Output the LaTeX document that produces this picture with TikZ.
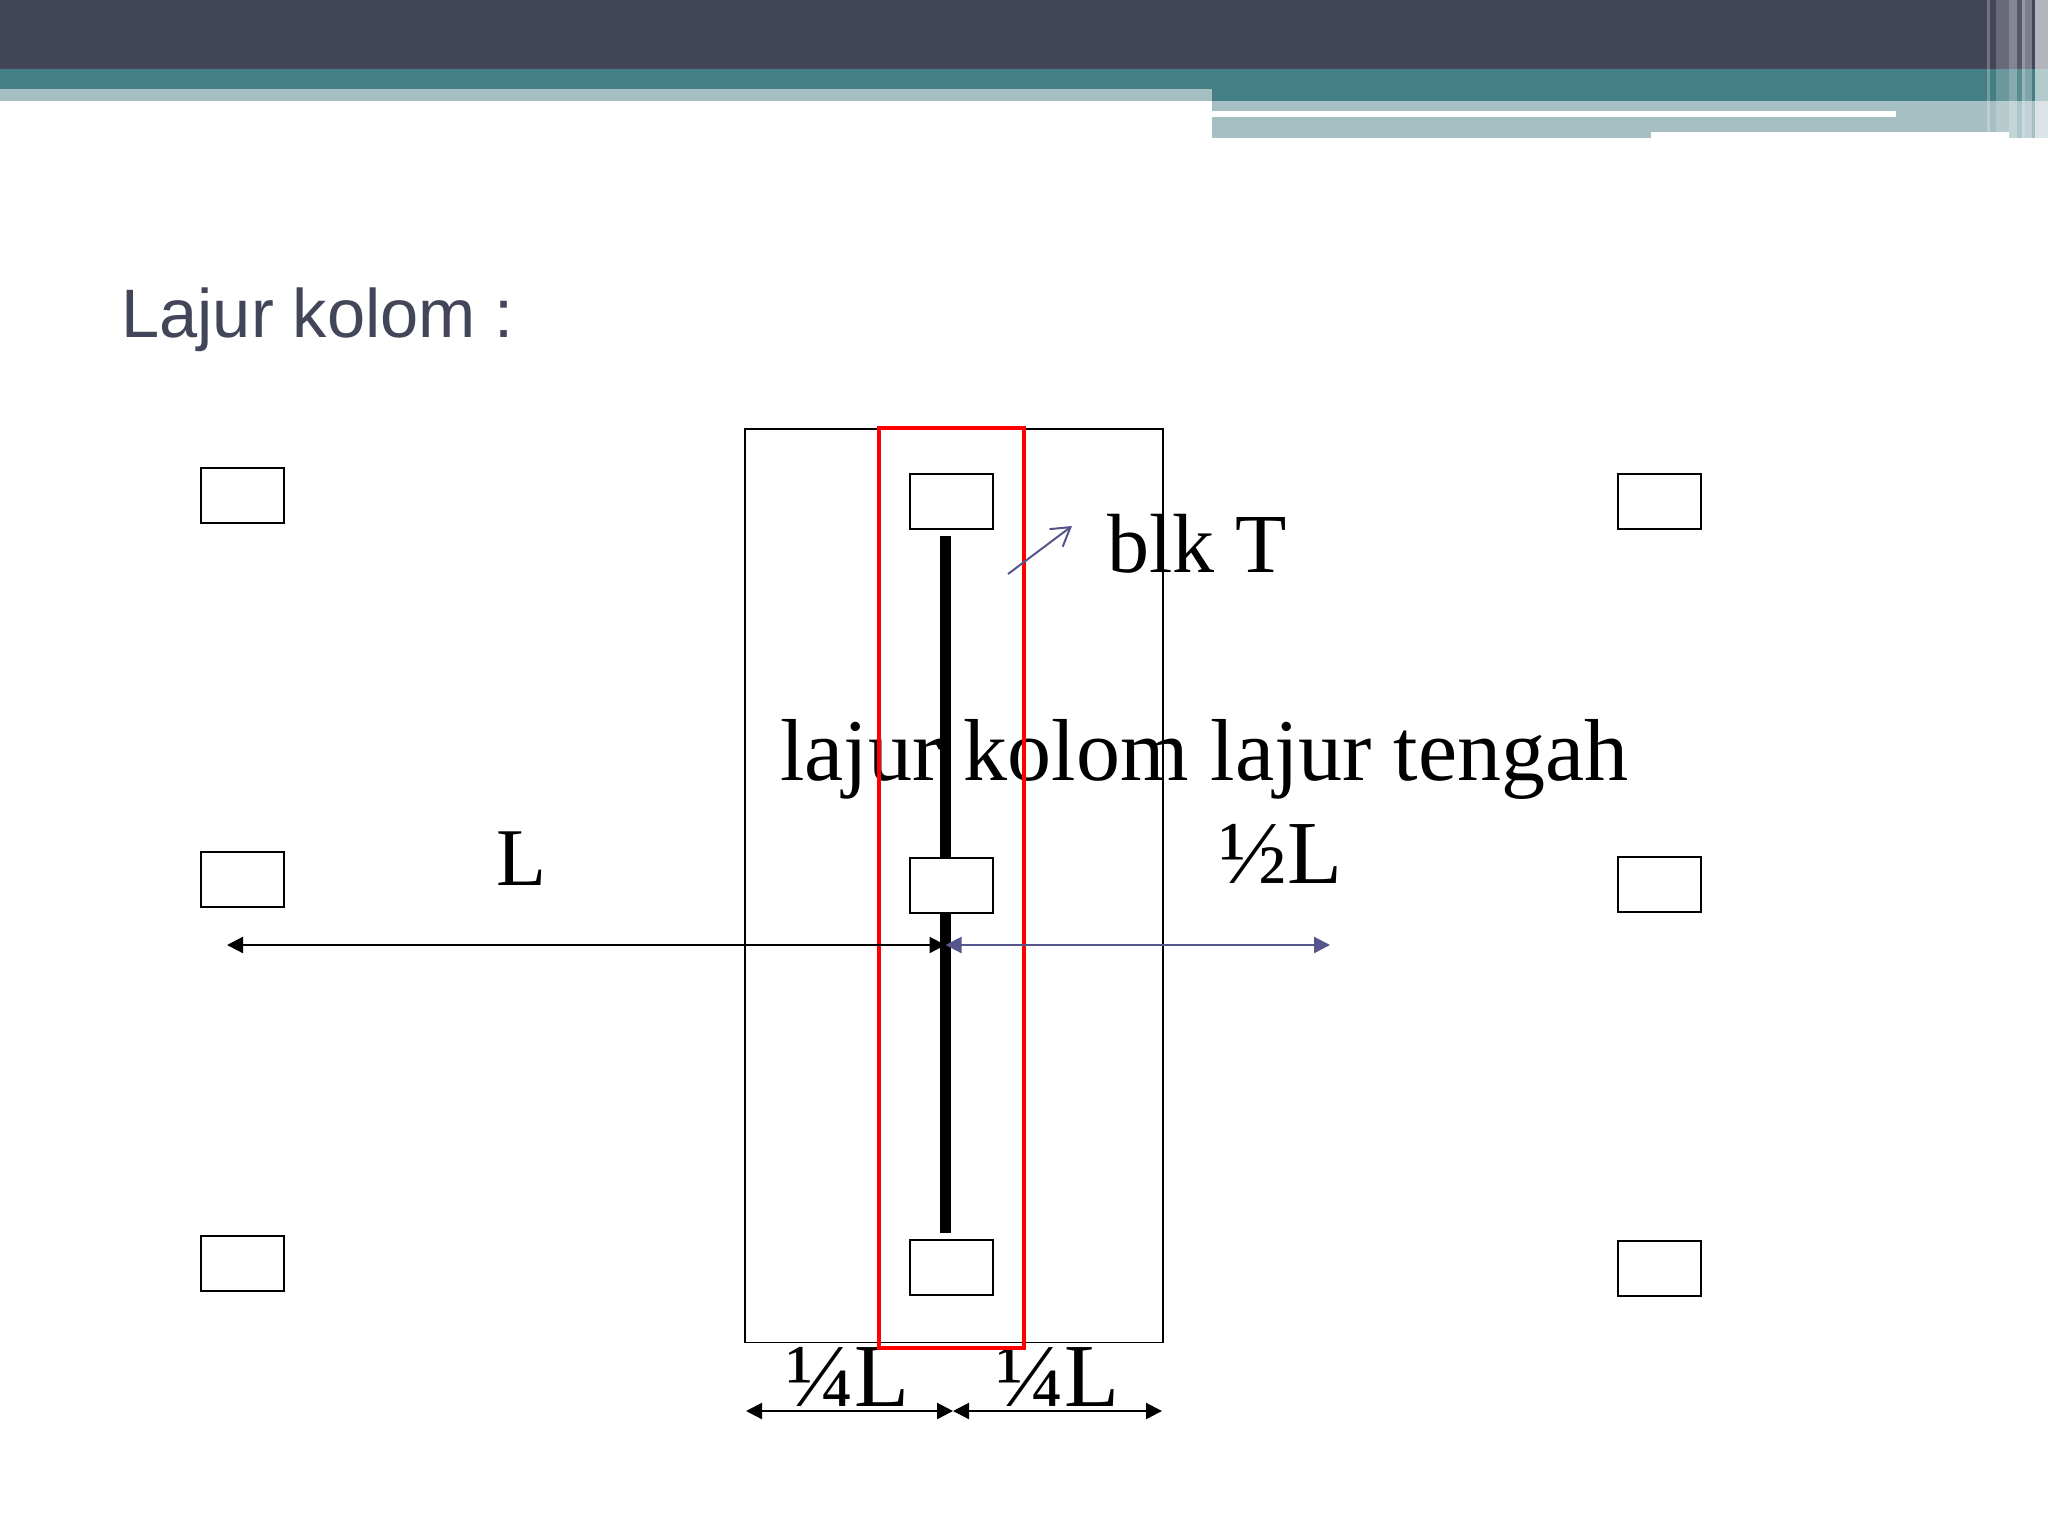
\documentclass[tikz,border=0pt]{standalone}
\usepackage{fontspec}
\setmainfont{Liberation Serif}
\newfontfamily\titlefont{Liberation Sans}
\usetikzlibrary{arrows.meta}
\definecolor{hdark}{RGB}{67,69,88}
\definecolor{hteal}{RGB}{69,127,134}
\definecolor{hlight}{RGB}{165,191,195}
\definecolor{arrblue}{RGB}{85,85,140}
\begin{document}
\begin{tikzpicture}[x=0.5pt,y=-0.5pt,
  col/.style={draw=black,fill=white,line width=1pt,rectangle,inner sep=0pt,minimum width=41.5pt,minimum height=27.5pt},
  stripbox/.style={draw=black,line width=0.75pt,rectangle,inner sep=0pt},
  redbox/.style={draw=red,line width=2pt,rectangle,inner sep=0pt},
  beam/.style={line width=5.8pt,black},
  dimarrow/.style={line width=1.1pt,{Triangle[length=8pt,width=8pt]}-{Triangle[length=8pt,width=8pt]}},
  bluearrow/.style={arrblue,line width=1.1pt,{Triangle[length=8pt,width=8pt]}-{Triangle[length=8pt,width=8pt]}},
  pointer/.style={arrblue,line width=1pt,-{Straight Barb[length=9pt,width=11pt]}},
  bigtxt/.style={inner sep=0pt,anchor=base west,font=\fontsize{41pt}{48pt}\selectfont}
]
\useasboundingbox (0,0) rectangle (2048,1536);
\fill[white] (0,0) rectangle (2048,1536);
% header
\fill[hdark] (0,0) rectangle (2048,69);
\fill[hteal] (0,69) rectangle (2048,89);
\fill[hteal] (1212,89) rectangle (2048,100.7);
\fill[hlight] (0,89) rectangle (1212,100.7);
\fill[hlight] (1212,100.7) rectangle (2048,138);
\fill[white] (1212,111) rectangle (1896,117.3);
\fill[white] (1651,131.7) rectangle (2009,138);
\fill[white,opacity=0.25] (1986.7,0) rectangle (1990,131.7);
\fill[white,opacity=0.2] (1996,0) rectangle (2009.3,131.7);
\fill[white,opacity=0.35] (2009.3,0) rectangle (2016.7,138);
\fill[white,opacity=0.1] (2016.7,0) rectangle (2021.7,138);
\fill[white,opacity=0.45] (2021.7,0) rectangle (2025,138);
\fill[white,opacity=0.3] (2025,0) rectangle (2031.7,138);
\fill[white,opacity=0.6] (2035,0) rectangle (2048,138);
% title
\node[inner sep=0pt,anchor=base west,text=hdark,font=\titlefont\fontsize{34.3pt}{42pt}\selectfont] (title) at (121,337) {Lajur kolom :};
% labels
\node[inner sep=0pt,anchor=base west,font=\fontsize{42pt}{50pt}\selectfont] (blkT) at (1107,572) {blk T};
\node[inner sep=0pt,anchor=base west,font=\fontsize{44pt}{52pt}\selectfont] (lajur) at (780,780) {lajur kolom lajur tengah};
\node[bigtxt] (Llab) at (496,885) {L};
\node[inner sep=0pt,anchor=base,font=\fontsize{45pt}{52pt}\selectfont] (halfL) at (1281,883) {½L};
\node[inner sep=0pt,anchor=base,font=\fontsize{45pt}{52pt}\selectfont] (qL1) at (848,1406) {¼L};
\node[inner sep=0pt,anchor=base,font=\fontsize{45pt}{52pt}\selectfont] (qL2) at (1058,1406) {¼L};
% strips
\node[stripbox,minimum width=209pt,minimum height=456.8pt] (outer) at (954,885.8) {};
% beam
\node[col] (ct) at (951.4,501) {};
\node[col] (cb) at (951.4,1267.5) {};
\draw[beam] ([xshift=-2.9pt,yshift=-3pt]ct.south) -- ([xshift=-2.9pt,yshift=3pt]cb.north);
\node[col] (cm) at (951.4,885) {};
% columns
\node[col] (lt) at (242.5,495.4) {};
\node[col] (lm) at (242.5,879) {};
\node[col] (lb) at (242.5,1263) {};
\node[col] (rt) at (1659.7,501) {};
\node[col] (rm) at (1659.7,884.7) {};
\node[col] (rb) at (1659.7,1268.7) {};
% red column strip
\node[redbox,minimum width=72.5pt,minimum height=459.6pt] (red) at (951.2,887.9) {};
% dimension arrows
\coordinate (Lend) at (227,945);
\coordinate (mid) at (945.5,945);
\coordinate (Rend) at (1330,945);
\draw[dimarrow] (Lend) -- (mid);
\draw[bluearrow] (mid) -- (Rend);
\coordinate (bl) at (746,1411);
\coordinate (bm) at (953,1411);
\coordinate (br) at (1162,1411);
\draw[dimarrow] (bl) -- (bm);
\draw[dimarrow] (bm) -- (br);
% pointer to blk T
\coordinate (ptail) at (1008,574);
\coordinate (phead) at (1072,526);
\draw[pointer] (ptail) -- (phead);
\end{tikzpicture}
\end{document}
